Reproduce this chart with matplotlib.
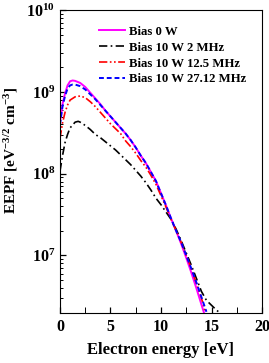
import numpy as np
import matplotlib
matplotlib.use("Agg")
import matplotlib.pyplot as plt
from matplotlib.ticker import LogLocator, MultipleLocator, LogFormatterSciNotation

plt.rcParams['font.family'] = ['Liberation Serif', 'DejaVu Serif']
plt.rcParams['font.weight'] = 'bold'
plt.rcParams['mathtext.fontset'] = 'custom'
plt.rcParams['mathtext.rm'] = 'Liberation Serif:bold'
plt.rcParams['mathtext.bf'] = 'Liberation Serif:bold'
plt.rcParams['mathtext.it'] = 'Liberation Serif:bold:italic'
plt.rcParams['mathtext.default'] = 'bf'

# ---- data (log10 of EEPF) ----
labels = ["Bias 0 W", "Bias 10 W 2 MHz", "Bias 10 W 12.5 MHz", "Bias 10 W 27.12 MHz"]

e_0w = [0, 0.25, 0.5, 0.75, 1.0, 1.25, 1.5, 2.0, 2.5, 3.0, 3.5, 4.0, 4.5, 5.0, 5.5, 6.0,
        6.5, 7.0, 7.5, 8.0, 8.5, 9.0, 9.5, 10.0, 10.5, 11.0, 11.5, 12.0, 12.5, 13.0, 13.5, 14.0, 14.25]
log_0w = [8.63, 8.85, 8.98, 9.08, 9.13, 9.14, 9.135, 9.11, 9.06, 8.99, 8.92, 8.85, 8.77, 8.70, 8.63, 8.56,
          8.49, 8.41, 8.32, 8.22, 8.13, 8.02, 7.91, 7.76, 7.61, 7.45, 7.30, 7.14, 6.97, 6.79, 6.60, 6.40, 6.30]

e_2m = [0, 0.25, 0.5, 0.75, 1.0, 1.5, 1.8, 2.0, 2.5, 3.0, 3.5, 4.0, 4.5, 5.0, 5.5, 6.0, 6.5, 7.0,
        7.5, 8.0, 8.5, 9.0, 9.5, 10.0, 10.5, 11.0, 11.5, 12.0, 12.5, 13.0, 13.5, 14.0, 14.5, 15.0, 15.5, 15.8]
log_2m = [8.03, 8.22, 8.38, 8.48, 8.56, 8.63, 8.64, 8.63, 8.59, 8.54, 8.48, 8.44, 8.39, 8.34, 8.29, 8.23, 8.17, 8.11,
          8.04, 7.97, 7.89, 7.80, 7.70, 7.62, 7.53, 7.44, 7.32, 7.18, 7.03, 6.88, 6.72, 6.56, 6.45, 6.39, 6.33, 6.30]

e_12m = [0, 0.25, 0.5, 0.75, 1.0, 1.5, 2.0, 2.5, 3.0, 3.5, 4.0, 4.5, 5.0, 5.5, 6.0, 6.5, 7.0, 7.5,
         8.0, 8.5, 9.0, 9.5, 10.0, 10.5, 11.0, 11.5, 12.0, 12.5, 13.0, 13.5, 14.0, 14.4]
log_12m = [8.43, 8.62, 8.75, 8.84, 8.90, 8.94, 8.95, 8.93, 8.88, 8.82, 8.75, 8.68, 8.61, 8.55, 8.49, 8.40, 8.33, 8.25,
           8.16, 8.08, 7.98, 7.87, 7.73, 7.59, 7.44, 7.30, 7.16, 7.00, 6.84, 6.66, 6.48, 6.30]

e_27m = [0, 0.25, 0.5, 0.75, 1.0, 1.25, 1.5, 2.0, 2.5, 3.0, 3.5, 4.0, 4.5, 5.0, 5.5, 6.0, 6.5, 7.0,
         7.5, 8.0, 8.5, 9.0, 9.5, 10.0, 10.5, 11.0, 11.5, 12.0, 12.5, 13.0, 13.5, 14.0, 14.5]
log_27m = [8.60, 8.82, 8.95, 9.04, 9.08, 9.09, 9.09, 9.07, 9.03, 8.97, 8.91, 8.84, 8.77, 8.70, 8.63, 8.56, 8.49, 8.41,
           8.32, 8.22, 8.13, 8.02, 7.91, 7.76, 7.61, 7.45, 7.30, 7.16, 7.00, 6.84, 6.67, 6.49, 6.31]

fig = plt.figure(figsize=(2.69, 3.63), dpi=100)
ax = fig.add_axes([0.223, 0.139, 0.751, 0.833])

ax.plot(e_0w, np.power(10.0, log_0w), color='#FF00FF', lw=1.4, ls='-', label=labels[0])
ax.plot(e_2m, np.power(10.0, log_2m), color='black', lw=1.2, dashes=(5, 2, 1, 2), label=labels[1])
ax.plot(e_12m, np.power(10.0, log_12m), color='#FF0000', lw=1.2, dashes=(5, 1.5, 1, 1.5, 1, 1.5), label=labels[2])
ax.plot(e_27m, np.power(10.0, log_27m), color='#0000FF', lw=1.4, dashes=(2.5, 1.5), label=labels[3])

ax.set_yscale('log')
ax.set_xlim(0, 20)
ax.set_ylim(2e6, 1e10)
ax.xaxis.set_major_locator(MultipleLocator(5))
ax.xaxis.set_minor_locator(MultipleLocator(2.5))
ax.yaxis.set_major_locator(LogLocator(base=10, numticks=10))
ax.yaxis.set_minor_locator(LogLocator(base=10, subs=np.arange(2, 10), numticks=20))
ax.yaxis.set_major_formatter(LogFormatterSciNotation())

ax.tick_params(which='both', direction='in', top=False, right=False, labelsize=11.5)
ax.tick_params(which='major', length=4, width=0.9)
ax.tick_params(which='minor', length=2.5, width=0.7)
ax.tick_params(axis='x', which='minor', length=4)
ax.tick_params(axis='x', which='major', pad=5)
for lab in ax.get_xticklabels() + ax.get_yticklabels():
    lab.set_fontweight('bold')

ax.set_xlabel('Electron energy [eV]', fontsize=12, fontweight='bold', labelpad=5)
ax.set_ylabel('EEPF [eV$^{-3/2}$ cm$^{-3}$]', fontsize=11, fontweight='bold')
ax.yaxis.set_label_coords(-0.2, 0.535)

leg = ax.legend(loc='upper left', bbox_to_anchor=(0.17, 0.965), frameon=False,
                prop={'family': 'Liberation Serif', 'weight': 'bold', 'size': 9.2},
                handlelength=2.0, handletextpad=0.35, labelspacing=0.3, borderaxespad=0)

fig.savefig('out.png', dpi=100)
